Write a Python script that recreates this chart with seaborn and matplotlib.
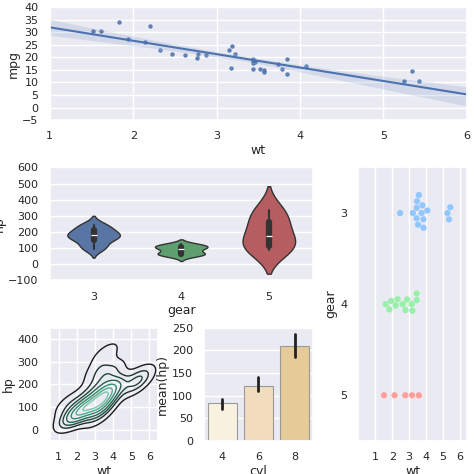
import matplotlib
matplotlib.use("Agg")
import matplotlib.pyplot as plt
import seaborn as sns
import pandas as pd

mpg = [21,21,22.8,21.4,18.7,18.1,14.3,24.4,22.8,19.2,17.8,16.4,17.3,15.2,10.4,10.4,14.7,32.4,30.4,33.9,21.5,15.5,15.2,13.3,19.2,27.3,26.0,30.4,15.8,19.7,15.0,21.4]
cyl = [6,6,4,6,8,6,8,4,4,6,6,8,8,8,8,8,8,4,4,4,4,8,8,8,8,4,4,4,8,6,8,4]
hp = [110,110,93,110,175,105,245,62,95,123,123,180,180,180,205,215,230,66,52,65,97,150,150,245,175,66,91,113,264,175,335,109]
wt = [2.620,2.875,2.320,3.215,3.440,3.460,3.570,3.190,3.150,3.440,3.440,4.070,3.730,3.780,5.250,5.424,5.345,2.200,1.615,1.835,2.465,3.520,3.435,3.840,3.845,1.935,2.140,1.513,3.170,2.770,3.570,2.780]
gear = [4,4,4,3,3,3,3,4,4,4,4,3,3,3,3,3,3,4,4,4,3,3,3,3,3,4,5,5,5,5,5,4]

df = pd.DataFrame(dict(mpg=mpg, cyl=cyl, hp=hp, wt=wt, gear=gear))
df["gear_s"] = df["gear"].astype(str)

sns.set_theme(style="darkgrid", rc={"font.size": 8, "axes.labelsize": 9,
              "xtick.labelsize": 8, "ytick.labelsize": 8,
              "xtick.major.pad": 2, "ytick.major.pad": 2, "axes.labelpad": 2})
deep = ["#4C72B0", "#55A868", "#C44E52"]
pastel = ["#92C6FF", "#97F0AA", "#FF9F9A"]

fig = plt.figure(figsize=(4.74, 4.74), dpi=100)
gs = fig.add_gridspec(3, 3, left=0.105, right=0.985, top=0.985, bottom=0.07, hspace=0.42, wspace=0.42)

ax1 = fig.add_subplot(gs[0, :])
ax1.set_xlim(1, 6)
sns.regplot(data=df, x="wt", y="mpg", ax=ax1, color=deep[0], scatter_kws=dict(s=5), line_kws=dict(lw=1.5), truncate=False)
ax1.set_xlim(1, 6); ax1.set_ylim(-5, 40)
ax1.set_yticks(range(-5, 41, 5))

ax2 = fig.add_subplot(gs[1, :2])
sns.violinplot(data=df, x="gear_s", y="hp", order=["3","4","5"], hue="gear_s", hue_order=["3","4","5"], palette=deep, legend=False, ax=ax2, linewidth=1, linecolor="#333", width=0.6)
ax2.set_xlabel("gear"); ax2.set_ylim(-100, 600)
ax2.set_yticks(range(-100, 601, 100))

ax3 = fig.add_subplot(gs[1:, 2])
sns.swarmplot(data=df, x="wt", y="gear_s", order=["3","4","5"], hue="gear_s", hue_order=["3","4","5"], palette=pastel, legend=False, ax=ax3, size=4.5)
ax3.set_ylabel("gear"); ax3.set_xlim(0, 6.4)
ax3.set_xticks([1,2,3,4,5,6]); ax3.grid(axis="y", visible=False)

ax4 = fig.add_subplot(gs[2, 0])
cm = sns.blend_palette(["#1a1a1a", "#2e8b6a", "#9fe0c6"], as_cmap=True)
sns.kdeplot(data=df, x="wt", y="hp", ax=ax4, cmap=cm, levels=8, linewidths=1)
ax4.set_xlim(0.5, 6.5); ax4.set_ylim(-50, 450)
ax4.set_xticks([1,2,3,4,5,6]); ax4.set_yticks([0,100,200,300,400])

ax5 = fig.add_subplot(gs[2, 1])
sns.barplot(data=df, x="cyl", y="hp", hue="cyl", palette=["#fdf3dc", "#f9dfb5", "#f3cf8b"], legend=False, ax=ax5, edgecolor="#999", linewidth=0.8, err_kws=dict(color="#222", linewidth=2))
ax5.set_ylabel("mean(hp)"); ax5.set_ylim(0, 250)

fig.savefig("out.png", dpi=100)
